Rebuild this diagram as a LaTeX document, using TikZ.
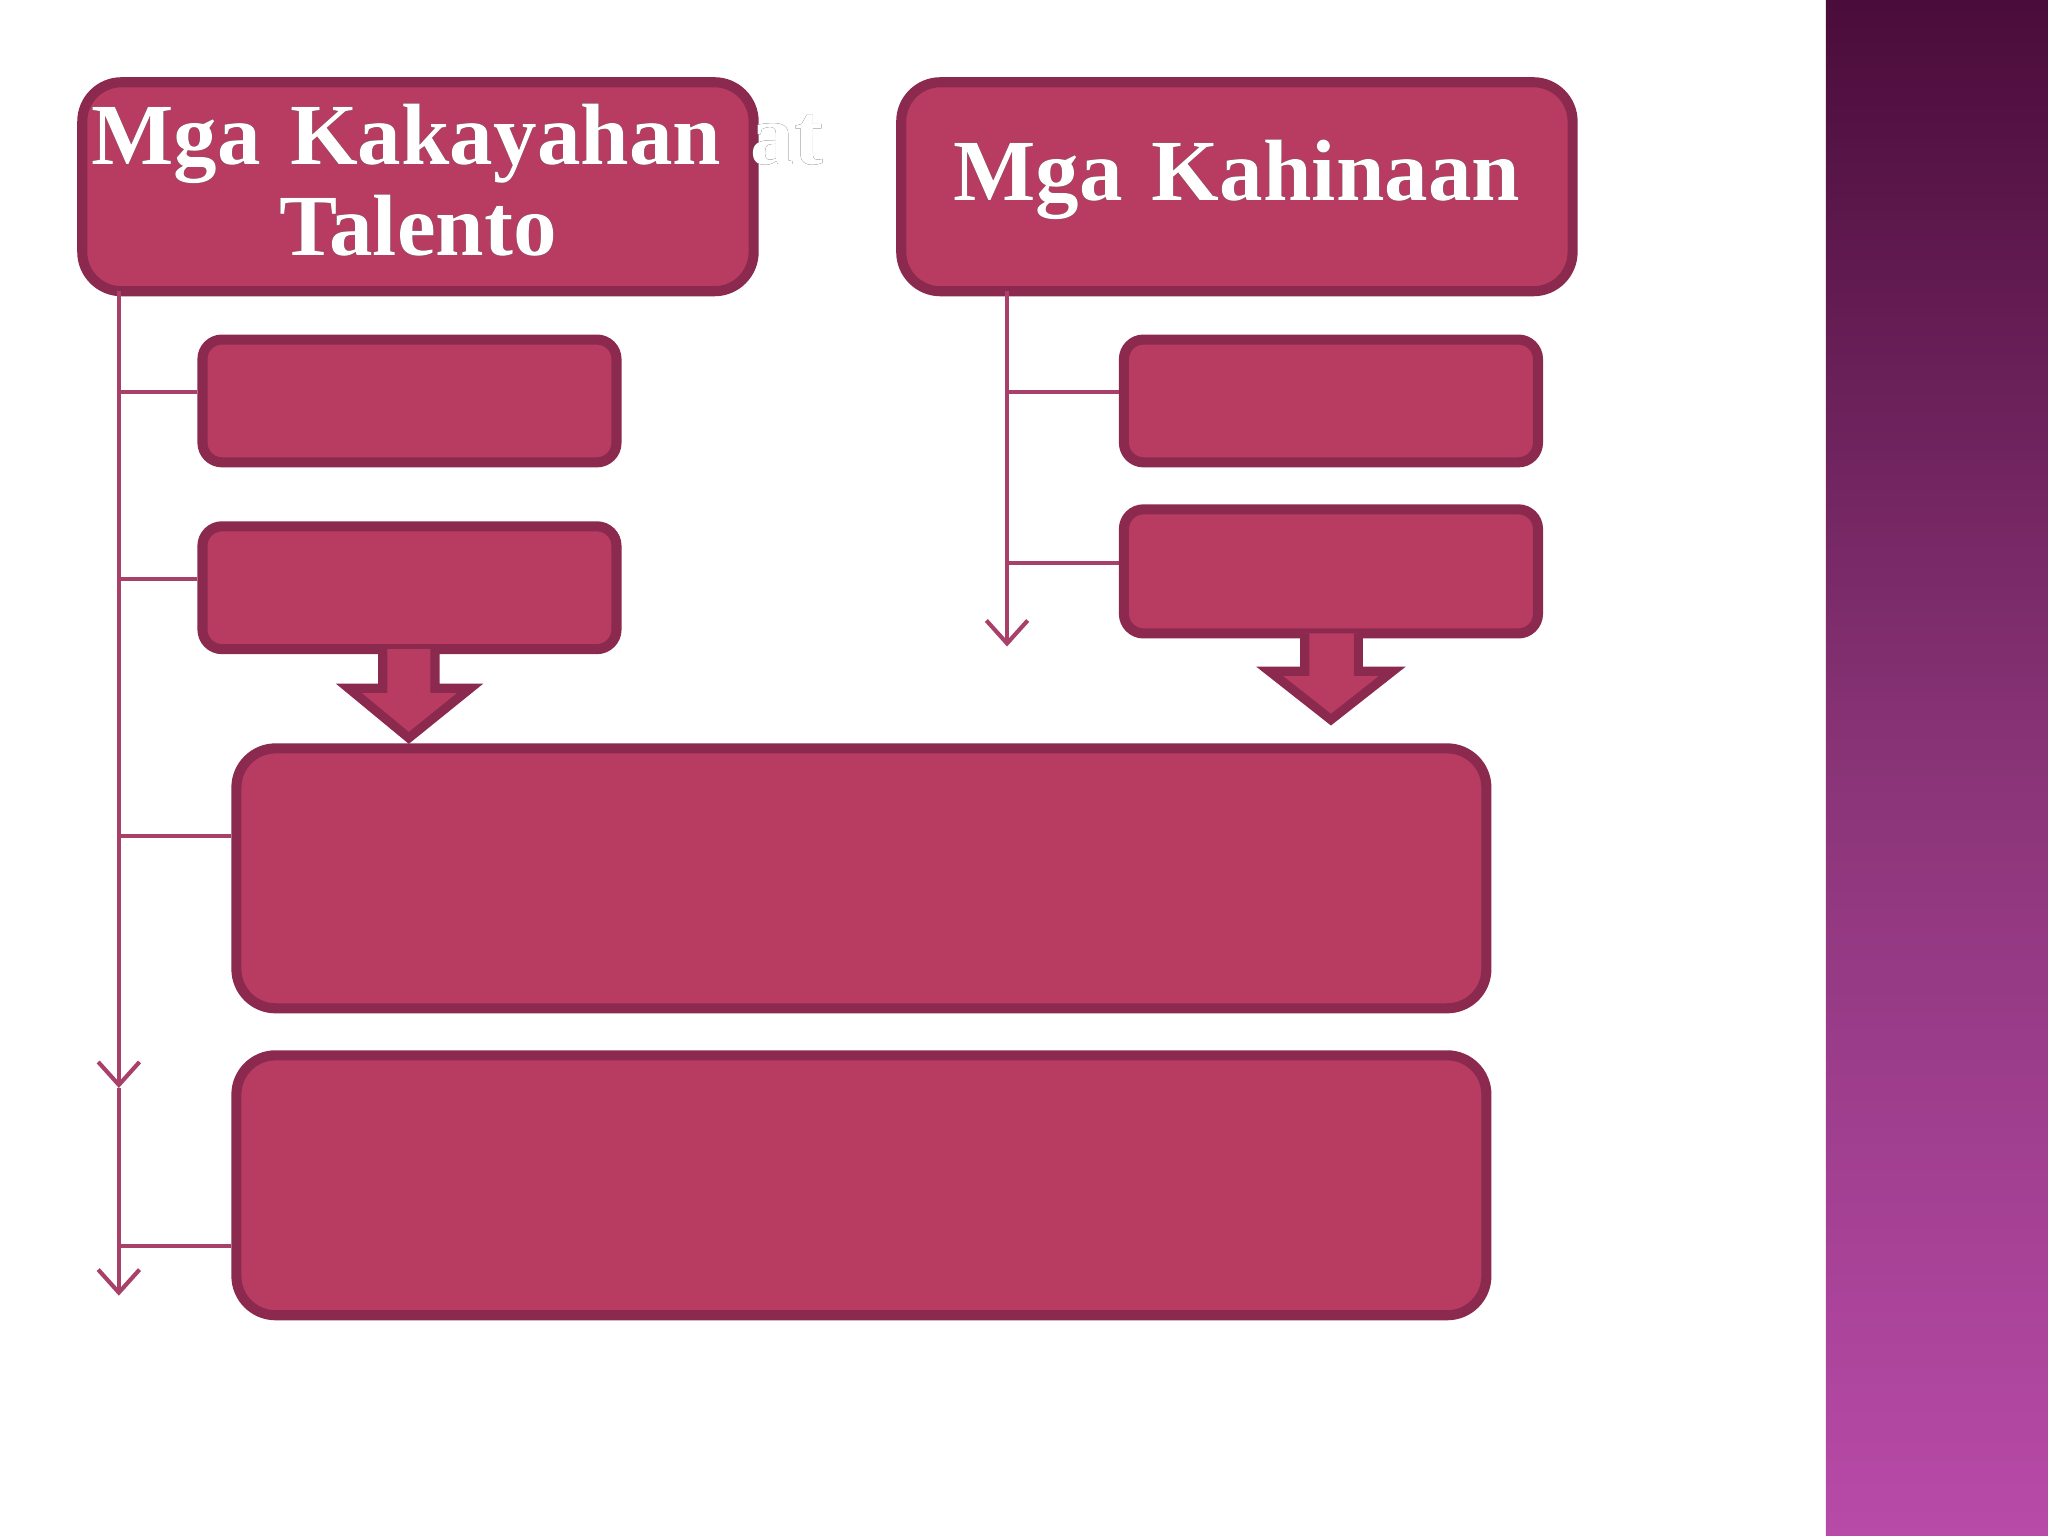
\documentclass[tikz,border=0pt]{standalone}
\usepackage{fontspec}
\setmainfont{Liberation Serif}
\usepackage[outline]{contour}
\contourlength{0.8pt}
\usetikzlibrary{arrows.meta}
\definecolor{fillc}{HTML}{B83C62}
\definecolor{edgec}{HTML}{8B2A4E}
\definecolor{linec}{HTML}{A8406A}
\definecolor{gtop}{HTML}{4A0C3A}
\definecolor{gmid}{HTML}{8A3478}
\definecolor{gbot}{HTML}{B84AA8}
\tikzset{
 box/.style={draw=edgec,fill=fillc,line width=2.2pt,rounded corners=#1,inner sep=0pt},
 box/.default=0.3cm,
 conn/.style={draw=linec,line width=0.9pt},
 hd/.style={font=\fontsize{19}{22}\selectfont\bfseries,align=center,text width=5cm},
 barrow/.style={draw=edgec,fill=fillc,line width=2pt,line join=miter}
}
\newcommand{\hdtext}[1]{\contour{black}{\textcolor{white}{#1}}}
\begin{document}
\begin{tikzpicture}
\useasboundingbox (0,0) rectangle (15.68,11.76);
\fill[white] (0,0) rectangle (15.68,11.76);
\shade[top color=gtop,bottom color=gbot,middle color=gmid] (13.98,0) rectangle (15.68,11.76);
\node[box,minimum width=5.14cm,minimum height=1.6cm] (A) at (3.20,10.33) {};
\node[hd] at (3.20,10.38) {\hdtext{Mga Kakayahan at}\\[-2pt]\hdtext{Talento}};
\node[box,minimum width=5.14cm,minimum height=1.6cm] (B) at (9.47,10.33) {};
\node[hd] at (9.47,10.38) {\hdtext{Mga Kahinaan}};
\node[box=0.15cm,minimum width=3.17cm,minimum height=0.94cm] (s1) at (3.135,8.69) {};
\node[box=0.15cm,minimum width=3.17cm,minimum height=0.94cm] (s2) at (3.135,7.26) {};
\node[box=0.15cm,minimum width=3.17cm,minimum height=0.94cm] (s3) at (10.19,8.69) {};
\node[box=0.15cm,minimum width=3.17cm,minimum height=0.95cm] (s4) at (10.19,7.385) {};
\node[box,minimum width=9.57cm,minimum height=1.99cm] (b1) at (6.595,5.035) {};
\node[box,minimum width=9.57cm,minimum height=1.99cm] (b2) at (6.595,2.685) {};
\coordinate (L0) at (0.91,9.53);
\coordinate (L1) at (0.91,3.43);
\coordinate (L2) at (0.91,1.84);
\draw[conn,-{Straight Barb[length=5pt,width=9pt]}] (L0) -- (L1);
\draw[conn,-{Straight Barb[length=5pt,width=9pt]}] (L1) -- (L2);
\draw[conn] (0.91,8.76) -- (s1.west |- 0,8.76);
\draw[conn] (0.91,7.33) -- (s2.west |- 0,7.33);
\draw[conn] (0.91,5.36) -- (b1.west |- 0,5.36);
\draw[conn] (0.91,2.22) -- (b2.west |- 0,2.22);
\coordinate (R0) at (7.71,9.53);
\coordinate (R1) at (7.71,6.81);
\draw[conn,-{Straight Barb[length=5pt,width=9pt]}] (R0) -- (R1);
\draw[conn] (7.71,8.76) -- (s3.west |- 0,8.76);
\draw[conn] (7.71,7.45) -- (s4.west |- 0,7.45);
\draw[barrow] (2.93,6.79) -- (2.93,6.49) -- (2.67,6.49) -- (3.13,6.11) -- (3.60,6.49) -- (3.33,6.49) -- (3.33,6.79);
\draw[barrow] (9.99,6.91) -- (9.99,6.62) -- (9.72,6.62) -- (10.19,6.25) -- (10.66,6.62) -- (10.40,6.62) -- (10.40,6.91);
\end{tikzpicture}
\end{document}
